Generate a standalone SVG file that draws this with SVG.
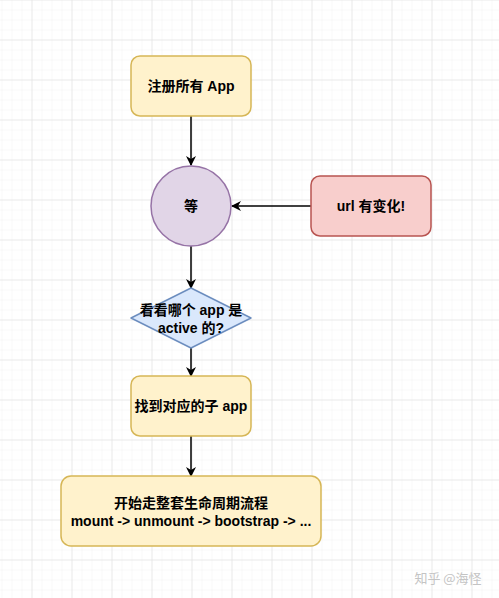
<svg xmlns="http://www.w3.org/2000/svg" width="499" height="598" viewBox="0 0 499 598">
<defs>
<pattern id="minor" x="1.5" y="9.5" width="10" height="10" patternUnits="userSpaceOnUse">
<path d="M0 0H10M0 0V10" fill="none" stroke="#f2f2f2" stroke-width="1"/>
</pattern>
<pattern id="major" x="31.5" y="39.5" width="40" height="40" patternUnits="userSpaceOnUse">
<path d="M0 0H40M0 0V40" fill="none" stroke="#dedede" stroke-width="1"/>
</pattern>
<marker id="arr" viewBox="0 0 10 10" refX="9" refY="5" markerWidth="10" markerHeight="10" markerUnits="userSpaceOnUse" orient="auto">
<path d="M0 0L10 5L0 10L3 5Z" fill="#000"/>
</marker>
</defs>
<style>
.y{fill:#fff2cc;stroke:#d6b656;stroke-width:1.5}
.t{font-family:"Liberation Sans","Noto Sans CJK SC",Arial,sans-serif;font-size:14px;font-weight:bold;fill:#000;text-anchor:middle;dominant-baseline:central}
.c{fill:none;stroke:#000;stroke-width:1.5;marker-end:url(#arr)}
</style>
<rect width="499" height="598" fill="#fff"/>
<rect width="499" height="598" fill="url(#minor)"/>
<rect width="499" height="598" fill="url(#major)"/>
<g id="connectors">
<path class="c" d="M191 116V165"/>
<path class="c" d="M191 246V288"/>
<path class="c" d="M311 206H232"/>
<path class="c" d="M191 348V376"/>
<path class="c" d="M191 436V476"/>
</g>
<g id="register">
<rect class="y" x="131" y="56" width="120" height="60" rx="9"/>
<text class="t" x="191" y="86">注册所有 App</text>
</g>
<g id="wait">
<circle cx="191" cy="206" r="40" fill="#e1d5e7" stroke="#9673a6" stroke-width="1.5"/>
<text class="t" x="191" y="206">等</text>
</g>
<g id="url">
<rect x="311" y="176" width="120" height="60" rx="9" fill="#f8cecc" stroke="#b85450" stroke-width="1.5"/>
<text class="t" x="371" y="206">url 有变化!</text>
</g>
<g id="check">
<path d="M191 288L251 318L191 348L131 318Z" fill="#dae8fc" stroke="#6c8ebf" stroke-width="1.5" stroke-linejoin="round"/>
<text class="t" x="191" y="310">看看哪个 app 是</text>
<text class="t" x="191" y="328">active 的?</text>
</g>
<g id="find">
<rect class="y" x="131" y="376" width="120" height="60" rx="9"/>
<text class="t" x="191" y="406">找到对应的子 app</text>
</g>
<g id="lifecycle">
<rect class="y" x="61" y="476" width="260" height="70" rx="10"/>
<text class="t" x="191" y="503">开始走整套生命周期流程</text>
<text class="t" x="191" y="521">mount -&gt; unmount -&gt; bootstrap -&gt; ...</text>
</g>
<text x="448" y="577" font-family="'Noto Sans CJK SC','Noto Sans',sans-serif" font-size="13" fill="#c4c4c4" text-anchor="middle" dominant-baseline="central">知乎 @海怪</text>
</svg>
